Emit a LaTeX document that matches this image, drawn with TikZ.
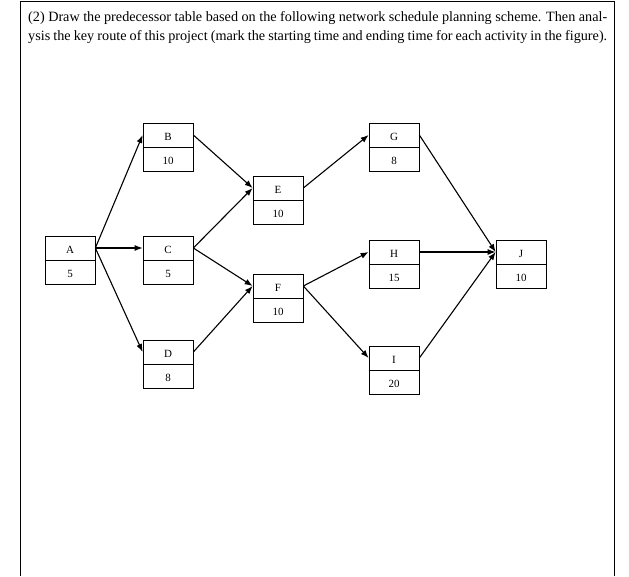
\documentclass[tikz,border=0pt]{standalone}
\usepackage{fontspec}
\setmainfont{Liberation Serif}
\usetikzlibrary{arrows.meta}
\begin{document}
\begin{tikzpicture}[x=1pt,y=-1pt,
  act/.style={draw,line width=0.7pt,minimum width=50pt,minimum height=48pt,inner sep=0pt},
  arr/.style={-{Latex[length=8pt,width=6pt]},line width=1.1pt}]
\useasboundingbox (0,0) rectangle (629,576);
\draw[line width=0.9pt] (20,576) -- (20,1) -- (614,1) -- (614,576);
\node[anchor=north west,text width=579pt,align=justify,inner sep=0pt,font=\fontsize{14.2}{19.5}\selectfont] (txt) at (28,11)
 {(2) Draw the predecessor table based on the following network schedule planning scheme. Then analysis the key route of this project (mark the starting time and ending time for each activity in the figure).};
\newcommand\actbox[5]{%
  \node[act] (#1) at (#2,#3) {};
  \draw[line width=0.7pt] (#1.west) -- (#1.east);
  \node[font=\fontsize{11}{13}\selectfont] (#1l) at (#2,#3-10) {#4};
  \node[font=\fontsize{11}{13}\selectfont] (#1d) at (#2,#3+14) {#5};
  \coordinate (#1i) at ([yshift=12pt]#1.west);
  \coordinate (#1o) at ([yshift=12pt]#1.east);}
\actbox{A}{70}{260}{A}{5}
\actbox{B}{168}{147}{B}{10}
\actbox{C}{168}{260}{C}{5}
\actbox{D}{168}{364}{D}{8}
\actbox{E}{278}{200}{E}{10}
\actbox{F}{278}{298}{F}{10}
\actbox{G}{394}{147}{G}{8}
\actbox{H}{394}{264}{H}{15}
\actbox{I}{394}{370}{I}{20}
\actbox{J}{521}{264}{J}{10}
\draw[arr] (Ao) -- (Bi);
\draw[arr] (Ao) -- (Ci);
\draw[arr] (Ao) -- (Di);
\draw[arr] (Bo) -- (Ei);
\draw[arr] (Co) -- (Ei);
\draw[arr] (Co) -- (Fi);
\draw[arr] (Do) -- (Fi);
\draw[arr] (Eo) -- (Gi);
\draw[arr] (Fo) -- (Hi);
\draw[arr] (Fo) -- (Ii);
\draw[arr] (Go) -- (Ji);
\draw[arr] (Ho) -- (Ji);
\draw[arr] (Io) -- (Ji);
\end{tikzpicture}
\end{document}
